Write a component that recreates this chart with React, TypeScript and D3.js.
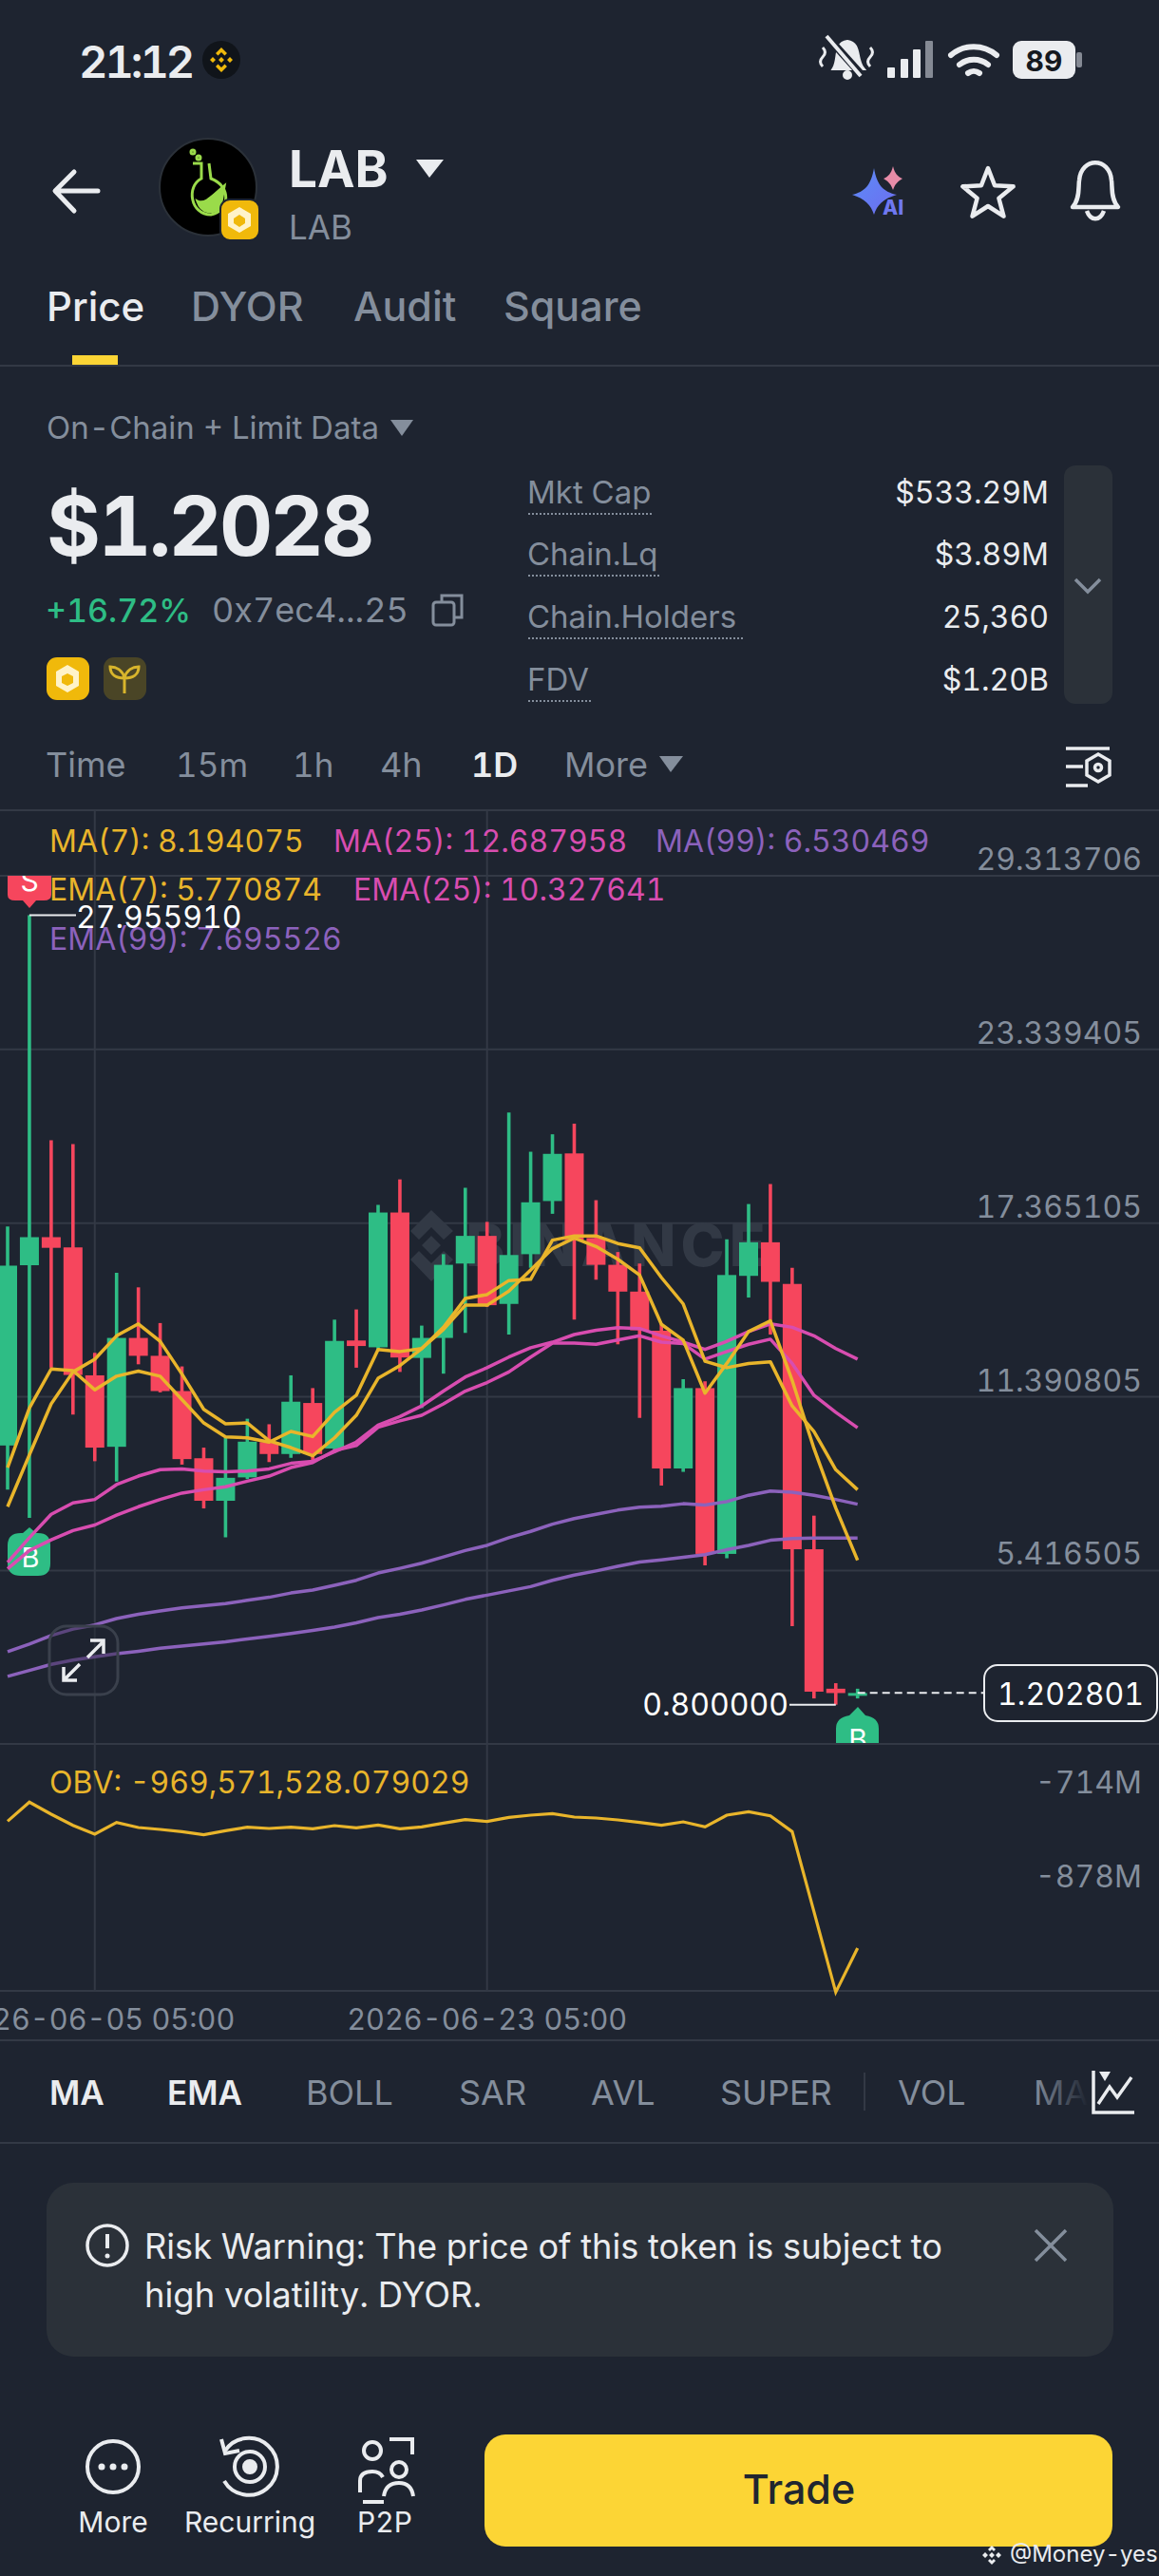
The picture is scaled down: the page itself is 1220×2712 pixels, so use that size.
import React from "react";
import * as d3 from "d3";

const candleOpen = [9.716,15.917,16.882,16.530,12.129,9.672,13.416,12.801,11.588,9.277,7.815,8.619,9.833,9.423,11.178,9.613,13.328,13.094,17.730,12.728,13.416,15.975,16.926,14.586,16.297,18.125,19.763,16.852,15.931,15.010,13.664,8.926,11.690,5.987,15.551,16.706,15.273,6.147,1.35,1.17];
const candleClose = [15.902,16.882,16.516,12.143,9.643,13.416,12.801,11.588,9.248,7.815,8.604,9.847,9.423,11.222,9.423,13.313,13.138,17.730,12.743,13.416,15.931,16.926,14.542,16.268,18.081,19.748,16.779,15.931,15.010,13.679,8.926,11.690,5.987,15.580,16.706,15.346,6.147,1.248,1.20,1.2028];
const candleHigh = [17.247,27.956,20.216,20.084,12.904,15.653,15.156,13.928,12.436,9.643,9.979,10.637,10.447,12.129,11.690,14.045,14.396,17.993,18.870,13.840,16.297,18.578,17.408,21.167,19.821,20.421,20.786,18.154,16.370,15.975,13.928,11.997,11.924,16.809,18.022,18.710,15.829,7.303,1.54,1.35];
const candleLow = [8.195,7.230,12.392,10.783,9.175,8.473,12.509,11.544,9.058,7.551,6.557,8.560,9.145,9.292,9.175,9.467,12.392,12.977,12.246,11.003,12.187,13.591,14.483,13.533,15.829,17.686,14.045,15.419,13.196,10.666,8.341,8.809,5.592,5.841,14.805,13.533,3.500,1.015,0.80,1.015];
const ma7 = [8.956,11.003,12.348,12.290,11.632,12.100,12.275,12.100,11.296,10.491,10.009,9.979,9.833,10.199,10.023,10.857,11.442,13.021,12.948,13.050,13.782,14.776,14.908,15.390,15.434,16.780,16.926,16.926,16.663,16.516,15.493,14.586,12.612,12.392,12.539,12.597,11.076,10.199,8.883,8.194];
const ema7 = [7.610,9.394,11.149,12.246,12.685,13.489,13.898,13.299,12.173,10.959,10.462,10.491,9.877,9.643,9.365,9.979,10.754,12.027,12.465,13.050,13.709,14.542,14.542,15.025,15.756,16.487,16.853,16.560,16.122,15.580,13.884,13.343,11.515,12.539,13.635,14.001,11.954,9.614,7.566,5.771];
const ma25 = [5.695,6.543,7.347,7.742,7.859,8.371,8.663,8.883,8.912,8.839,8.810,8.839,8.912,9.102,9.175,9.497,9.833,10.418,10.711,11.076,11.588,12.071,12.392,12.758,13.080,13.270,13.533,13.679,13.767,13.738,13.489,13.270,13.021,13.299,13.635,13.898,13.782,13.489,13.050,12.688];
const ema25 = [5.475,6.104,6.470,6.791,6.981,7.318,7.610,7.859,8.078,8.195,8.298,8.488,8.663,8.956,9.131,9.541,9.716,10.345,10.564,10.754,11.149,11.588,11.881,12.246,12.758,13.241,13.241,13.197,13.343,13.489,13.270,13.226,12.685,12.948,13.197,13.372,12.539,11.442,10.857,10.328];
const ema99 = [2.623,2.887,3.179,3.399,3.545,3.764,3.910,4.027,4.130,4.203,4.276,4.393,4.495,4.642,4.744,4.905,5.080,5.329,5.490,5.665,5.885,6.104,6.280,6.543,6.762,7.011,7.201,7.347,7.493,7.596,7.625,7.713,7.669,7.786,8.005,8.151,8.108,8.005,7.859,7.696];
const ma99 = [1.775,1.980,2.185,2.331,2.448,2.551,2.638,2.741,2.814,2.887,2.960,3.062,3.150,3.252,3.355,3.472,3.618,3.794,3.910,4.057,4.232,4.422,4.568,4.715,4.861,5.080,5.256,5.402,5.563,5.709,5.782,5.870,5.958,6.133,6.280,6.455,6.514,6.530,6.530,6.530];
const obvMillions = [-748.2,-715.0,-736.0,-755.4,-770.8,-750.4,-759.2,-762.5,-766.4,-771.9,-764.8,-758.7,-760.9,-758.7,-761.4,-755.9,-759.8,-754.8,-761.4,-758.1,-751.5,-745.4,-748.7,-741.6,-737.7,-734.9,-741.0,-742.7,-746.0,-750.4,-755.4,-749.3,-758.1,-737.7,-731.6,-738.8,-766.4,-906.1,-1046.4,-969.6];
const priceTicks = [29.313706,23.339405,17.365105,11.390805,5.416505];
const priceTickLabels = ["29.313706","23.339405","17.365105","11.390805","5.416505"];
const obvTicks = [-714,-878];
const obvTickLabels = ["-714M","-878M"];
const dateTicks = [4,22];
const dateTickLabels = ["2026-06-05 05:00","2026-06-23 05:00"];
const lastPrice = 1.2028;
const highPoint = { index: 1, value: 27.95591, label: "27.955910" };
const lowPoint = { index: 38, value: 0.8, label: "0.800000" };

const BG = "#1E2430", GRID = "#333945", GREY = "#848E9C", WHITE = "#EAECEF", UP = "#2EBD85", DOWN = "#F6465D";
const YEL = "#E9B52B", PINK = "#D84DB0", PUR = "#8C62BC", FONT = "Inter, 'Noto Sans', sans-serif";

const x = d3.scaleLinear().domain([0, 39]).range([8, 902.7]);
const y = d3.scaleLinear().domain([29.313706, 5.416505]).range([922, 1653.4]);
const yObv = d3.scaleLinear().domain([-714, -878]).range([1896.7, 1995.7]);
const idx = d3.range(40);

const linePath = (vals: number[]) => d3.line<number>().x((_, i) => x(i)).y((v) => y(v))(vals) || "";
const obvPath = d3.line<number>().x((_, i) => x(i)).y((v) => yObv(v))(obvMillions) || "";

const T = ({ x, y, s = 32, c = GREY, w = 400, a = "start", children, ...r }: any) => (
  <text x={x} y={y} fontSize={s} fill={c} fontWeight={w} textAnchor={a} fontFamily={FONT} style={{ fontVariantNumeric: "tabular-nums" }} {...r}>{children}</text>
);

const star = (cx: number, cy: number, R: number, r: number) =>
  d3.range(10).map((i) => {
    const t = -Math.PI / 2 + (i * Math.PI) / 5, q = i % 2 ? r : R;
    return `${cx + q * Math.cos(t)},${cy + q * Math.sin(t)}`;
  }).join(" ");

export default function App() {
  return (
    <svg width={1220} height={2712} viewBox="0 0 1220 2712" style={{ position: "absolute", left: 0, top: 0, display: "block" }}>
      <defs>
        <clipPath id="main"><rect x={0} y={922} width={1220} height={913} /></clipPath>
        <linearGradient id="aiG" x1="0" y1="0" x2="1" y2="1"><stop offset="0" stopColor="#5B8DF6" /><stop offset="1" stopColor="#6E6CF0" /></linearGradient>
        <linearGradient id="fadeMA" x1="0" x2="1"><stop offset="0" stopColor={GREY} /><stop offset="1" stopColor={BG} /></linearGradient>
      </defs>
      <rect width={1220} height={2712} fill={BG} />

      {/* status bar */}
      <T x={83} y={82} s={47} c={WHITE} w={600} letterSpacing={-3}>21:12</T>
      <circle cx={233} cy={63} r={20} fill="#10141A" />
      <g fill="#F0B90B" transform="translate(233,63)">
        <path d="M0,-13 L6,-7 L3.5,-4.5 L0,-8 L-3.5,-4.5 L-6,-7Z M0,13 L6,7 L3.5,4.5 L0,8 L-3.5,4.5 L-6,7Z M-9,-3 L-6,0 L-9,3 L-12,0Z M9,-3 L12,0 L9,3 L6,0Z M0,-3 L3,0 L0,3 L-3,0Z" />
      </g>
      <g stroke={WHITE} fill="none" strokeWidth={4}>
        <path d="M878,72 C884,62 878,46 892,44 C906,46 900,62 908,72Z" fill={WHITE} />
        <path d="M872,40 L908,80" stroke={BG} strokeWidth={8} />
        <path d="M870,38 L906,80" />
        <path d="M866,50 q5,5 0,10 q-5,5 0,10 M916,50 q5,5 0,10 q-5,5 0,10" strokeWidth={3} />
        <circle cx={892} cy={79} r={3} fill={WHITE} />
      </g>
      <g fill={WHITE}>
        <rect x={934} y={71} width={8} height={11} rx={1} />
        <rect x={948} y={62} width={8} height={20} rx={1} />
        <rect x={961} y={52} width={8} height={30} rx={1} />
        <rect x={974} y={43} width={8} height={39} rx={1} fill="#858A94" />
      </g>
      <g fill="none" stroke={WHITE} strokeWidth={6} strokeLinecap="round">
        <path d="M1001,58 A37,37 0 0 1 1049,58" />
        <path d="M1010,68 A24,24 0 0 1 1040,68" />
        <path d="M1019,77 A10,10 0 0 1 1031,77" />
      </g>
      <rect x={1066} y={43} width={66} height={40} rx={9} fill={WHITE} />
      <rect x={1133} y={55} width={6} height={16} rx={2} fill="#858A94" />
      <T x={1099} y={75} s={30} c="#15191F" w={700} a="middle">89</T>

      {/* header */}
      <path d="M103,201 H59 M78,181 L58,201 L78,222" fill="none" stroke={WHITE} strokeWidth={5} strokeLinecap="round" strokeLinejoin="round" />
      <circle cx={219} cy={197} r={51} fill="#000" stroke="#2B3139" strokeWidth={2} />
      <g fill="none" stroke="#9ADB4A" strokeWidth={3}>
        <path d="M203,172 L212,172 L212,188 C196,196 200,226 222,226 C242,222 244,196 222,188 L220,172" />
        <path d="M208,212 C216,216 224,206 236,196 L232,218 C224,226 212,224 208,212Z" fill="#9ADB4A" />
        <circle cx={203} cy={160} r={2} />
        <circle cx={209} cy={166} r={2} />
      </g>
      <rect x={232} y={210} width={41} height={43} rx={10} fill="#F0B90B" stroke={BG} strokeWidth={2} />
      <path d="M252,218 L264,225 V238 L252,245 L240,238 V225Z M252,226 L258,230 V235 L252,239 L246,235 V230Z" fill="#FFF3C9" fillRule="evenodd" />
      <T x={304} y={197} s={53} c={WHITE} w={700}>LAB</T>
      <path d="M438,168 H467 L452,187Z" fill={WHITE} />
      <T x={304} y={252} s={35}>LAB</T>
      <path d="M920,177 C923,195 930,202 944,205 C930,209 923,216 920,226 C917,216 910,209 897,205 C910,202 917,195 920,177Z" fill="url(#aiG)" />
      <path d="M940,175 C942,183 945,186 950,188 C945,191 942,194 940,200 C938,194 935,191 930,188 C935,186 938,183 940,175Z" fill="#E88CA8" />
      <T x={929} y={226} s={21} c="#6F78F0" w={800}>AI</T>
      <polygon points={star(1040, 205, 28, 12)} fill="none" stroke={WHITE} strokeWidth={4.5} strokeLinejoin="round" />
      <path d="M1129,218 C1137,210 1135,196 1136,190 C1138,165 1168,165 1170,190 C1171,196 1169,210 1177,218Z M1144,222 C1148,233 1158,233 1162,222" fill="none" stroke={WHITE} strokeWidth={4.5} strokeLinejoin="round" />

      {/* tabs */}
      <T x={49} y={338} s={42} c={WHITE} w={500}>Price</T>
      <T x={201} y={338} s={43} w={500}>DYOR</T>
      <T x={372} y={338} s={43} w={500}>Audit</T>
      <T x={530} y={338} s={43} w={500}>Square</T>
      <rect x={76} y={374} width={48} height={10} fill="#FCD535" />
      <rect x={0} y={384} width={1220} height={2} fill={GRID} />

      {/* price block */}
      <T x={49} y={462} s={33}>On-Chain + Limit Data</T>
      <path d="M411,442 H435 L423,459Z" fill={GREY} />
      <T x={49} y={585} s={87} c={WHITE} w={700} letterSpacing={-2.7}>$1.2028</T>
      <T x={48} y={655} s={34} c={UP} w={500}>+16.72%</T>
      <T x={223} y={655} s={36}>0x7ec4...25</T>
      <g fill="none" stroke={GREY} strokeWidth={3}>
        <rect x={456} y={634} width={22} height={24} rx={3} />
        <path d="M465,634 V627 H486 V650 H478" />
      </g>
      <rect x={49} y={692} width={45} height={45} rx={11} fill="#F0B90B" />
      <path d="M71,700 L83,707 V722 L71,729 L59,722 V707Z M71,709 L77,712 V719 L71,722 L65,719 V712Z" fill="#FFF3C9" fillRule="evenodd" />
      <rect x={109} y={692} width={45} height={45} rx={11} fill="#4A4526" />
      <path d="M131,730 V714 M131,714 C129,705 122,702 116,702 C116,710 122,714 131,714 C140,714 146,710 146,702 C140,702 133,705 131,714" fill="none" stroke="#D8B52C" strokeWidth={3} />
      {[["Mkt Cap", "$533.29M", 530, 130], ["Chain.Lq", "$3.89M", 595, 140], ["Chain.Holders", "25,360", 661, 226], ["FDV", "$1.20B", 727, 67]].map(([l, v, b, w]: any) => (
        <g key={l}>
          <T x={555} y={b} s={33}>{l}</T>
          <line x1={556} x2={556 + w} y1={b + 11} y2={b + 11} stroke={GREY} strokeWidth={2} strokeDasharray="2 2" />
          <T x={1104} y={b} s={32} c={WHITE} a="end">{v}</T>
        </g>
      ))}
      <rect x={1120} y={490} width={51} height={251} rx={12} fill="#2B3139" />
      <path d="M1132,610 L1145,623 L1158,610" fill="none" stroke={GREY} strokeWidth={3.5} />

      {/* intervals */}
      <T x={48} y={818} s={36}>Time</T>
      <T x={185} y={818} s={35}>15m</T>
      <T x={308} y={818} s={35}>1h</T>
      <T x={400} y={818} s={36}>4h</T>
      <T x={496} y={818} s={36} c={WHITE} w={600}>1D</T>
      <T x={594} y={818} s={36}>More</T>
      <path d="M694,796 H719 L706,813Z" fill={GREY} />
      <g fill="none" stroke={WHITE} strokeWidth={3.5}>
        <path d="M1122,788 H1168 M1122,807 H1140 M1122,827 H1145" />
        <path d="M1156,794 L1168,801 V816 L1156,823 L1144,816 V801Z" />
        <circle cx={1156} cy={808} r={3.5} />
      </g>

      {/* chart frame */}
      {[853, 1836, 2096, 2148, 2256].map((g) => <line key={g} x1={0} x2={1220} y1={g} y2={g} stroke={GRID} strokeWidth={2} />)}
      {priceTicks.map((t) => <line key={t} x1={0} x2={1220} y1={y(t)} y2={y(t)} stroke={GRID} strokeWidth={2} />)}
      {dateTicks.map((d) => <line key={d} x1={x(d)} x2={x(d)} y1={853} y2={2096} stroke={GRID} strokeWidth={2} />)}

      {/* watermark */}
      <g fill="#323945">
        <path d="M454,1274 L477,1296 L467,1305 L454,1292 L441,1305 L432,1296Z M454,1349 L477,1326 L467,1317 L454,1330 L441,1317 L432,1326Z M454,1301 L464,1311 L454,1321 L444,1311Z" />
        <T x={490} y={1333} s={62} c="#323945" w={800} letterSpacing={5}>BINANCE</T>
      </g>

      {/* candles */}
      <g clipPath="url(#main)">
        {idx.map((i) => {
          const up = candleClose[i] >= candleOpen[i];
          const col = up ? UP : DOWN;
          const top = y(Math.max(candleOpen[i], candleClose[i]));
          const bot = y(Math.min(candleOpen[i], candleClose[i]));
          return (
            <g key={i}>
              <line x1={x(i)} x2={x(i)} y1={y(candleHigh[i])} y2={y(candleLow[i])} stroke={col} strokeWidth={3.6} />
              <rect x={x(i) - 10} y={top} width={20} height={Math.max(bot - top, 3)} fill={col} />
            </g>
          );
        })}
        {/* S marker */}
        <path d="M8,914 H54 V942 Q54,948 46,948 H38 L31,956 L24,948 H16 Q8,948 8,942Z" fill={DOWN} />
        <T x={31} y={938} s={30} c="#fff" a="middle">S</T>
        {/* B marker */}
        <path d="M31,1608 L38,1614 H40 Q53,1614 53,1627 V1646 Q53,1659 40,1659 H22 Q8,1659 8,1646 V1627 Q8,1614 22,1614 H24Z" fill={UP} />
        <T x={32} y={1650} s={29} c="#fff" a="middle">B</T>
        <path d="M903,1797 L911,1806 Q925,1808 925,1820 V1840 H880 V1820 Q880,1808 894,1806Z" fill={UP} />
        <T x={903} y={1842} s={30} c="#fff" a="middle">B</T>
      </g>

      {/* lines */}
      <g fill="none" strokeWidth={3.5} strokeLinejoin="round">
        <path d={linePath(ma99)} stroke={PUR} />
        <path d={linePath(ema99)} stroke={PUR} />
        <path d={linePath(ma25)} stroke={PINK} />
        <path d={linePath(ema25)} stroke={PINK} />
        <path d={linePath(ma7)} stroke={YEL} />
        <path d={linePath(ema7)} stroke={YEL} />
      </g>

      {/* legend */}
      <T x={52} y={897} c={YEL}>MA(7): 8.194075</T>
      <T x={351} y={897} c={PINK}>MA(25): 12.687958</T>
      <T x={690} y={897} c={PUR}>MA(99): 6.530469</T>
      <T x={52} y={948} c={YEL}>EMA(7): 5.770874</T>
      <T x={372} y={948} c={PINK}>EMA(25): 10.327641</T>
      <T x={52} y={1000} c={PUR}>EMA(99): 7.695526</T>

      {/* extremes */}
      <line x1={x(highPoint.index)} x2={80} y1={y(highPoint.value)} y2={y(highPoint.value)} stroke={WHITE} strokeWidth={2} />
      <T x={80} y={977} c="#fff">{highPoint.label}</T>
      <line x1={x(lowPoint.index)} x2={831} y1={y(lowPoint.value)} y2={y(lowPoint.value)} stroke={WHITE} strokeWidth={2} />
      <T x={830} y={1806} c="#fff" a="end">{lowPoint.label}</T>

      {/* price axis */}
      {priceTicks.map((t, i) => <T key={t} x={1202} y={y(t) - 6} a="end">{priceTickLabels[i]}</T>)}
      <line x1={x(39)} x2={1036} y1={y(lastPrice)} y2={y(lastPrice)} stroke={WHITE} strokeWidth={2} strokeDasharray="8 5" />
      <rect x={1036} y={1753} width={182} height={59} rx={14} fill={BG} stroke={WHITE} strokeWidth={2} />
      <T x={1127} y={1795} c="#fff" a="middle">1.202801</T>

      {/* expand button */}
      <rect x={52} y={1712} width={72} height={72} rx={18} fill="#1E2430" fillOpacity={0.45} stroke="#3A404C" strokeWidth={3} />
      <path d="M92,1745 L108,1729 M95,1727 H109 V1741 M84,1752 L68,1768 M67,1755 V1769 H81" fill="none" stroke={WHITE} strokeWidth={3.5} />

      {/* OBV */}
      <T x={52} y={1888} c={YEL}>OBV: -969,571,528.079029</T>
      <path d={obvPath} fill="none" stroke={YEL} strokeWidth={3.2} />
      {obvTicks.map((t, i) => <T key={t} x={1202} y={yObv(t) - 9} a="end">{obvTickLabels[i]}</T>)}
      {dateTicks.map((d, i) => <T key={d} x={x(d)} y={2137} a="middle" s={30.7}>{dateTickLabels[i]}</T>)}

      {/* indicators */}
      <T x={52} y={2216} s={35} c={WHITE} w={600}>MA</T>
      <T x={176} y={2216} s={35} c={WHITE} w={600}>EMA</T>
      <T x={322} y={2216} s={36}>BOLL</T>
      <T x={483} y={2216} s={36}>SAR</T>
      <T x={622} y={2216} s={36}>AVL</T>
      <T x={758} y={2216} s={36}>SUPER</T>
      <line x1={910} x2={910} y1={2182} y2={2222} stroke={GRID} strokeWidth={2} />
      <T x={945} y={2216} s={36}>VOL</T>
      <T x={1088} y={2216} s={36} fill="url(#fadeMA)">MA</T>
      <g fill="none" stroke={WHITE} strokeWidth={3.5}>
        <path d="M1151,2180 V2224 H1194" />
        <path d="M1156,2215 L1168,2197 L1176,2208 L1191,2187" />
      </g>
      <path d="M1157,2181 H1169 L1163,2191Z" fill={WHITE} />

      {/* risk box */}
      <rect x={49} y={2298} width={1123} height={183} rx={28} fill="#2B3139" />
      <circle cx={113} cy={2364} r={21} fill="none" stroke={WHITE} strokeWidth={3.5} />
      <path d="M113,2352 V2367" stroke={WHITE} strokeWidth={4} />
      <circle cx={113} cy={2375} r={2.5} fill={WHITE} />
      <T x={152} y={2378} s={36.2} c={WHITE}>Risk Warning: The price of this token is subject to</T>
      <T x={152} y={2429} s={36.4} c={WHITE}>high volatility. DYOR.</T>
      <path d="M1090,2348 L1122,2380 M1122,2348 L1090,2380" stroke={GREY} strokeWidth={3.5} />

      {/* bottom bar */}
      <circle cx={119} cy={2597} r={27} fill="none" stroke={WHITE} strokeWidth={4} />
      <g fill={WHITE}><circle cx={107} cy={2597} r={3.5} /><circle cx={119} cy={2597} r={3.5} /><circle cx={131} cy={2597} r={3.5} /></g>
      <T x={119} y={2666} s={30} c={WHITE} a="middle">More</T>
      <g fill="none" stroke={WHITE} strokeWidth={4}>
        <path d="M237,2580 A30,30 0 1 1 236,2612" />
        <path d="M233,2568 L237,2583 L252,2580" />
        <circle cx={263} cy={2597} r={16} />
        <circle cx={263} cy={2597} r={6} fill={WHITE} />
      </g>
      <T x={263} y={2666} s={30} c={WHITE} a="middle">Recurring</T>
      <g fill="none" stroke={WHITE} strokeWidth={4}>
        <circle cx={392} cy={2580} r={9} />
        <circle cx={420} cy={2600} r={8} />
        <path d="M379,2624 V2612 Q379,2602 392,2602 Q400,2602 403,2608 M404,2628 Q406,2614 420,2614 Q433,2614 435,2628" />
        <path d="M410,2568 H434 V2584 M382,2634 H404" />
      </g>
      <T x={405} y={2666} s={30} c={WHITE} a="middle">P2P</T>
      <rect x={510} y={2563} width={661} height={118} rx={22} fill="#FCD535" />
      <T x={841} y={2636} s={43} c="#202630" w={500} a="middle">Trade</T>
      <g fill={WHITE} transform="translate(1044,2690)">
        <path d="M0,-10 L4,-6 L2,-4 L0,-6 L-2,-4 L-4,-6Z M0,10 L4,6 L2,4 L0,6 L-2,4 L-4,6Z M-10,0 L-7,-3 L-4,0 L-7,3Z M10,0 L7,-3 L4,0 L7,3Z M0,-3 L3,0 L0,3 L-3,0Z" />
      </g>
      <T x={1063} y={2697} s={24} c={WHITE}>@Money-yes</T>
    </svg>
  );
}
